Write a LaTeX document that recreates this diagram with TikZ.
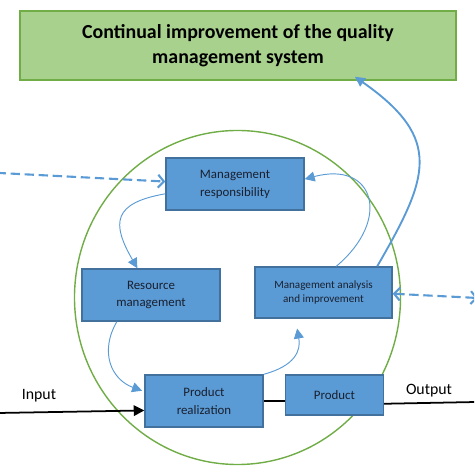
\documentclass[tikz,border=0pt]{standalone}
\usepackage{fontspec}
\setmainfont{Carlito}
\usetikzlibrary{positioning, arrows.meta, shapes.geometric}
\definecolor{boxblue}{RGB}{91,155,213}
\definecolor{boxline}{RGB}{65,113,156}
\definecolor{lightgreen}{RGB}{169,209,142}
\definecolor{darkgreen}{RGB}{112,173,71}
\definecolor{boxtext}{RGB}{25,32,48}

\begin{document}
\begin{tikzpicture}[
					x=0.03cm, y=0.03cm,
					process/.style={draw=boxline, fill=boxblue, line width=1.2pt, inner sep=0pt, align=center, text=boxtext, minimum width=4.14cm, minimum height=1.56cm, font=\fontsize{11}{15.3}\selectfont},
					loop/.style={draw=boxblue, line width=0.8pt, -{Triangle[length=8.5pt, width=8.5pt]}},
					feedback/.style={draw=boxblue, line width=1.8pt, dash pattern=on 8pt off 4pt, {Straight Barb[length=5pt, width=11pt]}-{Straight Barb[length=5pt, width=11pt]}},
					flowline/.style={line width=1.5pt, black}
					]
					\useasboundingbox (0,0) rectangle (474,474);
					\clip (0,0) rectangle (474,474);
					\node[draw=darkgreen, line width=1.2pt, ellipse, inner sep=0pt, minimum width=9.78cm, minimum height=10.02cm] (ring) at (237.5,176.5) {};
					\node[draw=darkgreen, fill=lightgreen, line width=1pt, minimum width=13.08cm, minimum height=2.07cm, align=center, font=\fontsize{17}{21}\selectfont\bfseries] (top) at (238,428.5)
					{Continual improvement of the quality\\management system};
					\node[process] (mr) at (235,290) {Management\\responsibility};
					\node[process] (rm) at (151,179) {Resource\\management};
					\node[process, minimum width=4.11cm, minimum height=1.53cm, font=\fontsize{9.5}{12.3}\selectfont] (mai) at (323.5,181.5) {Management analysis\\and improvement};
					\node[process, minimum width=3.54cm] (pr) at (204,73) {Product\\realization};
					\node[process, minimum width=2.94cm, minimum height=1.2cm, below right=0cm and 0.63cm of pr.north east] (product) {Product};
					\node[font=\fontsize{13.5}{16}\selectfont] (input) at (39,78) {Input};
					\node[font=\fontsize{13.5}{16}\selectfont] (output) at (429,83) {Output};
					\coordinate (instart) at (-2,61);
					\coordinate (outend) at (476,72);
					\coordinate (leftin) at (-20,302);
					\coordinate (rightin) at (478,176);
					\draw[flowline, -{Triangle[length=9pt, width=9pt]}] (instart) -- (pr.189);
					\draw[flowline] (pr.east) -- (pr.east -| product.west);
					\draw[flowline] (product.-10) -- (outend);
					\draw[loop] (mr.188) to[out=190, in=120, looseness=1.7] (rm.117);
					\draw[loop, shorten >=2pt] (rm.218) to[out=240, in=160, looseness=1.2] (pr.171);
					\draw[loop, shorten >=0.3cm] (pr.north east) to[out=15, in=280, looseness=1.3] (mai.223);
					\draw[loop] (mai.64) to[out=40, in=15, looseness=2.0] (mr.4);
					\draw[loop, line width=1.6pt, shorten >=-0.2cm] (mai.26) to[out=60, in=-35, looseness=1.4] (top.-16.2);
					\draw[feedback] (leftin) -- (mr.178);
					\draw[feedback] (mai.-1) -- (rightin);
				\end{tikzpicture}
\end{document}
